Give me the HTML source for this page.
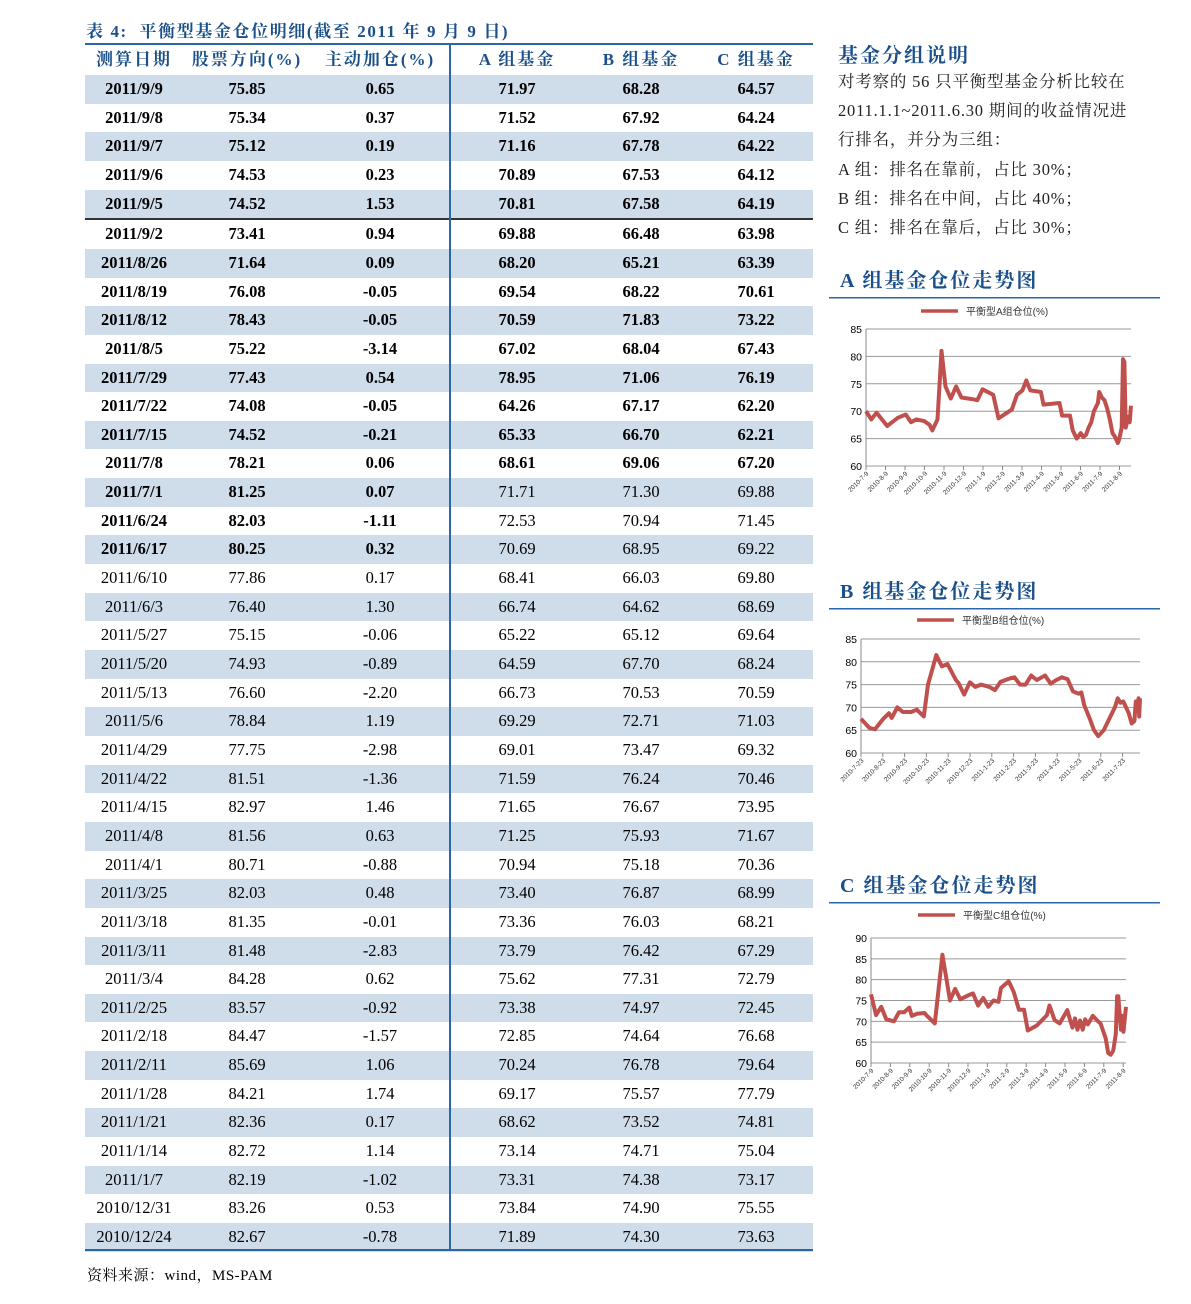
<!DOCTYPE html>
<html><head><meta charset="utf-8"><style>
body{margin:0;width:1191px;height:1304px;background:#fff;position:relative;font-family:"Liberation Serif","Noto Serif CJK SC",serif;overflow:hidden}
.t{position:absolute;white-space:nowrap}
#tbl div.r{position:absolute;left:85px;width:728px;height:28.65px}
#tbl span{position:absolute;top:0;line-height:28.65px;font-size:16.5px;color:#000;transform:translateX(-50%);white-space:nowrap}
#tbl .hd span{color:#1a4f8a;font-weight:bold;font-size:17px;letter-spacing:2px;line-height:29px}
.rt{font-size:16.5px;color:#222;left:838px;letter-spacing:0.8px;font-family:"Liberation Serif","Noto Serif CJK SC",serif}
.h{font-size:20px;font-weight:bold;color:#1a4f8a;letter-spacing:2px}
</style></head><body>
<div class="t" style="left:86px;top:17px;font-size:17px;font-weight:bold;color:#1a4f8a;letter-spacing:1.6px">表 4:&nbsp; 平衡型基金仓位明细(截至 2011 年 9 月 9 日)</div>
<div style="position:absolute;left:85px;top:43px;width:728px;height:2px;background:#2a66a8"></div>
<div id="tbl"></div>
<div style="position:absolute;left:449px;top:45px;width:1.5px;height:1205px;background:#2a66a8"></div>
<div class="t" style="left:87px;top:1264px;font-size:15px;letter-spacing:0.5px">资料来源：wind，MS-PAM</div>

<div class="t h" style="left:838px;top:39px">基金分组说明</div>
<div class="t rt" style="top:68px">对考察的 56 只平衡型基金分析比较在</div>
<div class="t rt" style="top:97px">2011.1.1~2011.6.30 期间的收益情况进</div>
<div class="t rt" style="top:126px">行排名，并分为三组：</div>
<div class="t rt" style="top:156px">A 组：排名在靠前，占比 30%；</div>
<div class="t rt" style="top:185px">B 组：排名在中间，占比 40%；</div>
<div class="t rt" style="top:214px">C 组：排名在靠后，占比 30%；</div>

<svg id="sv" width="1191" height="1304" style="position:absolute;left:0;top:0" font-family="Liberation Sans, Noto Sans CJK SC, sans-serif"></svg>
<script>
var rows=[["2011/9/9","75.85","0.65","71.97","68.28","64.57"],["2011/9/8","75.34","0.37","71.52","67.92","64.24"],["2011/9/7","75.12","0.19","71.16","67.78","64.22"],["2011/9/6","74.53","0.23","70.89","67.53","64.12"],["2011/9/5","74.52","1.53","70.81","67.58","64.19"],["2011/9/2","73.41","0.94","69.88","66.48","63.98"],["2011/8/26","71.64","0.09","68.20","65.21","63.39"],["2011/8/19","76.08","-0.05","69.54","68.22","70.61"],["2011/8/12","78.43","-0.05","70.59","71.83","73.22"],["2011/8/5","75.22","-3.14","67.02","68.04","67.43"],["2011/7/29","77.43","0.54","78.95","71.06","76.19"],["2011/7/22","74.08","-0.05","64.26","67.17","62.20"],["2011/7/15","74.52","-0.21","65.33","66.70","62.21"],["2011/7/8","78.21","0.06","68.61","69.06","67.20"],["2011/7/1","81.25","0.07","71.71","71.30","69.88"],["2011/6/24","82.03","-1.11","72.53","70.94","71.45"],["2011/6/17","80.25","0.32","70.69","68.95","69.22"],["2011/6/10","77.86","0.17","68.41","66.03","69.80"],["2011/6/3","76.40","1.30","66.74","64.62","68.69"],["2011/5/27","75.15","-0.06","65.22","65.12","69.64"],["2011/5/20","74.93","-0.89","64.59","67.70","68.24"],["2011/5/13","76.60","-2.20","66.73","70.53","70.59"],["2011/5/6","78.84","1.19","69.29","72.71","71.03"],["2011/4/29","77.75","-2.98","69.01","73.47","69.32"],["2011/4/22","81.51","-1.36","71.59","76.24","70.46"],["2011/4/15","82.97","1.46","71.65","76.67","73.95"],["2011/4/8","81.56","0.63","71.25","75.93","71.67"],["2011/4/1","80.71","-0.88","70.94","75.18","70.36"],["2011/3/25","82.03","0.48","73.40","76.87","68.99"],["2011/3/18","81.35","-0.01","73.36","76.03","68.21"],["2011/3/11","81.48","-2.83","73.79","76.42","67.29"],["2011/3/4","84.28","0.62","75.62","77.31","72.79"],["2011/2/25","83.57","-0.92","73.38","74.97","72.45"],["2011/2/18","84.47","-1.57","72.85","74.64","76.68"],["2011/2/11","85.69","1.06","70.24","76.78","79.64"],["2011/1/28","84.21","1.74","69.17","75.57","77.79"],["2011/1/21","82.36","0.17","68.62","73.52","74.81"],["2011/1/14","82.72","1.14","73.14","74.71","75.04"],["2011/1/7","82.19","-1.02","73.31","74.38","73.17"],["2010/12/31","83.26","0.53","73.84","74.90","75.55"],["2010/12/24","82.67","-0.78","71.89","74.30","73.63"]];
var cx=[134,247,380,517,641,756].map(function(v){return v-85});
var hl=["测算日期","股票方向(%)","主动加仓(%)","A 组基金","B 组基金","C 组基金"];
var h='<div class="r hd" style="top:45px;height:29px">';
hl.forEach(function(c,j){h+='<span style="left:'+cx[j]+'px">'+c+'</span>';});
h+='</div>';
rows.forEach(function(r,i){
 var top=75+i*28.65+(i>4?2:0);
 var bg=i%2==0?'background:#cfdcea;':'';
 h+='<div class="r" style="top:'+top+'px;'+bg+'">';
 r.forEach(function(c,j){var b=(i<=16&&(j<3||i<14))?'font-weight:bold;':'';h+='<span style="left:'+cx[j]+'px;'+b+'">'+c+'</span>';});
 h+='</div>';
});
h+='<div style="position:absolute;left:85px;top:218px;width:728px;height:1.5px;background:#333"></div>';
h+='<div style="position:absolute;left:85px;top:1249px;width:728px;height:1.5px;background:#2a66a8"></div>';
document.getElementById('tbl').innerHTML=h;

function chart(o){
 var s='';
 s+='<text x="'+o.tx+'" y="'+(o.ty)+'" font-family="Liberation Serif, Noto Serif CJK SC, serif" font-size="20" font-weight="bold" fill="#1a4f8a" letter-spacing="2">'+o.title+'</text>';
 s+='<rect x="829" y="'+(o.ty+10)+'" width="331" height="1.5" fill="#2a66a8"/>';
 s+='<line x1="'+(o.lx-45)+'" y1="'+o.ly+'" x2="'+(o.lx-8)+'" y2="'+o.ly+'" stroke="#c0504d" stroke-width="3.5"/>';
 s+='<text x="'+o.lx+'" y="'+(o.ly+4)+'" font-size="10" fill="#333">'+o.leg+'</text>';
 var n=(o.vmax-o.vmin)/5;
 for(var k=0;k<=n;k++){var v=o.vmin+k*5;var y=o.y1-(v-o.vmin)/(o.vmax-o.vmin)*(o.y1-o.y0);
  s+='<line x1="'+o.x0+'" y1="'+y+'" x2="'+o.x1+'" y2="'+y+'" stroke="#999" stroke-width="1"/>';
  s+='<text x="'+(o.x0-4)+'" y="'+(y+4)+'" font-size="10.5" text-anchor="end" fill="#000">'+v+'</text>';}
 s+='<line x1="'+o.x0+'" y1="'+o.y0+'" x2="'+o.x0+'" y2="'+o.y1+'" stroke="#888"/>';
 o.labs.forEach(function(l,i){var x=o.x0+i*o.step;s+='<line x1="'+x+'" y1="'+o.y1+'" x2="'+x+'" y2="'+(o.y1+4)+'" stroke="#888"/>';
  s+='<text transform="translate('+(x+3)+','+(o.y1+8)+') rotate(-45)" font-size="6.5" text-anchor="end" fill="#333">'+l+'</text>';});
 var p=o.d.map(function(a){return (o.x0+a[0]*(o.x1-o.x0)).toFixed(1)+','+(o.y1-(a[1]-o.vmin)/(o.vmax-o.vmin)*(o.y1-o.y0)).toFixed(1)}).join(' ');
 s+='<polyline points="'+p+'" fill="none" stroke="#c0504d" stroke-width="4" stroke-linejoin="round"/>';
 return s;
}
function pairs(a){var r=[];for(var i=0;i<a.length;i+=2)r.push([a[i],a[i+1]]);return r;}
var la=["2010-7-9","2010-8-9","2010-9-9","2010-10-9","2010-11-9","2010-12-9","2011-1-9","2011-2-9","2011-3-9","2011-4-9","2011-5-9","2011-6-9","2011-7-9","2011-8-9"];
var lb=["2010-7-23","2010-8-23","2010-9-23","2010-10-23","2010-11-23","2010-12-23","2011-1-23","2011-2-23","2011-3-23","2011-4-23","2011-5-23","2011-6-23","2011-7-23"];
var A=pairs([0,70,.02,68.5,.04,69.7,.08,67.3,.12,68.8,.15,69.4,.17,68,.19,68.5,.22,68.2,.24,67.5,.25,66.5,.27,68.5,.285,81,.30,74.5,.32,72.3,.34,74.5,.36,72.5,.40,72.2,.42,72,.44,74,.48,73,.50,68.7,.55,70.3,.57,73,.59,73.8,.605,75.6,.62,73.8,.66,73.5,.67,71.2,.73,71.5,.74,69.2,.77,69.2,.78,66.5,.795,65,.81,66,.82,65.3,.83,65.7,.84,67,.85,68,.86,70,.875,71.5,.88,73.5,.89,72.5,.90,72,.91,70.5,.92,68.5,.93,66,.94,65.3,.95,64.2,.955,64.8,.965,67,.97,79.5,.975,79,.98,67,.99,69,.995,68,1,71]);
var B=pairs([0,67.5,.03,65.5,.05,65.2,.08,67.5,.10,68.7,.11,67.7,.13,70,.15,69,.18,69,.20,69.5,.225,68,.24,75,.27,81.5,.29,79,.31,79.5,.34,76,.35,75.3,.37,72.8,.39,75.5,.41,74.5,.43,75,.46,74.5,.48,73.8,.50,75.6,.53,76.3,.55,76.6,.57,75,.59,75,.61,77,.63,76,.66,77,.68,75.2,.70,76,.72,76.6,.74,76.2,.76,73.5,.78,73,.79,73.3,.80,70.5,.82,67.5,.835,65,.85,63.7,.87,65,.89,67.5,.91,70,.92,72,.93,71,.94,71.3,.96,68.7,.97,66.5,.98,67,.985,71.3,.99,70.5,.995,72,.997,68,1,72]);
var C=pairs([0,76.5,.02,71.5,.04,73.5,.06,70.5,.09,70,.11,72.2,.13,72.2,.15,73.3,.16,71.3,.18,71.8,.21,72,.22,71.3,.25,69.5,.28,86,.31,75,.33,77.8,.35,75.3,.38,76.2,.40,76.7,.42,73.8,.44,75.6,.46,73.5,.48,75,.50,74.7,.51,78,.54,79.6,.56,77,.58,72.8,.60,72.8,.615,67.8,.65,69,.69,71.5,.70,73.8,.72,70.3,.74,69.5,.77,72.7,.78,70.5,.79,68.5,.80,70.7,.81,68,.82,70.2,.83,68,.84,70.5,.85,69.3,.87,71.3,.89,70,.90,69.5,.92,66,.93,62.4,.94,62,.95,63,.96,67,.965,76,.97,76,.98,68,.985,71.3,.99,67.5,1,73.5]);
var s=chart({title:"A 组基金仓位走势图",tx:840,ty:287,lx:966,ly:311,leg:"平衡型A组仓位(%)",x0:866,x1:1131,y0:329,y1:466,vmin:60,vmax:85,labs:la,step:19.5,d:A});
s+=chart({title:"B 组基金仓位走势图",tx:840,ty:598,lx:962,ly:620,leg:"平衡型B组仓位(%)",x0:861,x1:1140,y0:639,y1:753,vmin:60,vmax:85,labs:lb,step:21.8,d:B});
s+=chart({title:"C 组基金仓位走势图",tx:840,ty:892,lx:963,ly:915,leg:"平衡型C组仓位(%)",x0:871,x1:1126,y0:938,y1:1063,vmin:60,vmax:90,labs:la,step:19.4,d:C});
document.getElementById('sv').innerHTML=s;
</script>
</body></html>
